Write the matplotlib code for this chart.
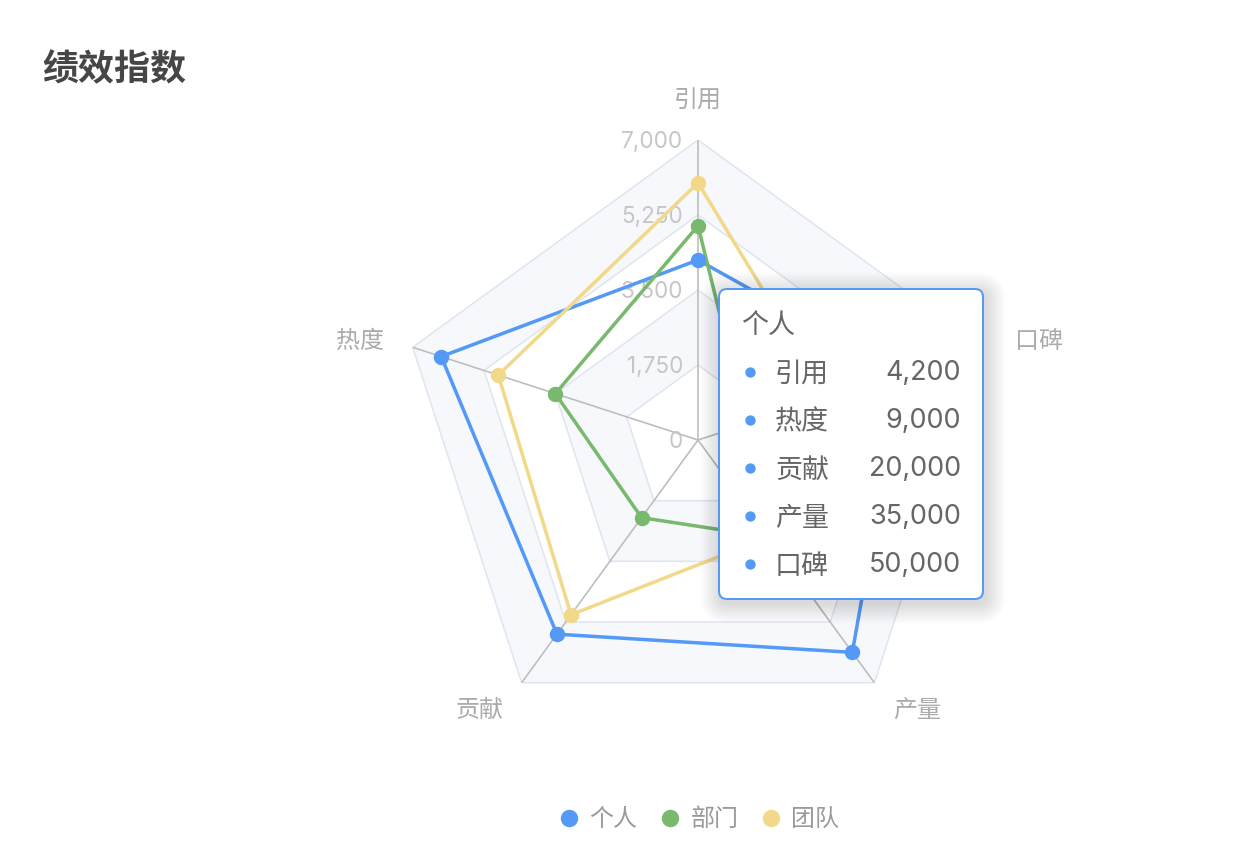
import numpy as np
import matplotlib
matplotlib.use('Agg')
import matplotlib.pyplot as plt
from matplotlib.patches import FancyBboxPatch
from matplotlib.lines import Line2D

plt.rcParams['font.family'] = ['Noto Sans CJK SC', 'DejaVu Sans']
NUM_FONT = ['Inter', 'Noto Sans CJK SC', 'DejaVu Sans']

# ---------------- data ----------------
title = '绩效指数'
indicators = ['引用', '热度', '贡献', '产量', '口碑']
indicator_max = [7000, 10000, 25000, 40000, 70000]
series_names = ['个人', '部门', '团队']
personal = [4200, 9000, 20000, 35000, 50000]
department = [5000, 5000, 8000, 16000, 12000]
team = [6000, 7000, 18000, 16000, 32000]
axis_ticks = [0, 1750, 3500, 5250, 7000]
colors = ['#5599f7', '#79b96e', '#f2d98a']
tooltip_series = 0  # index of the series shown in the tooltip

series_values = [personal, department, team]

# ---------------- figure ----------------
W, H = 1238, 866
DPI = 100
PX = 72 / DPI  # points per pixel
fig = plt.figure(figsize=(W / DPI, H / DPI), dpi=DPI)
fig.patch.set_facecolor('white')

cx, cy, R = 698, 440, 300
ax = fig.add_axes([(cx - R) / W, (H - cy - R) / H, 2 * R / W, 2 * R / H],
                  projection='polar')
ax.set_theta_zero_location('N')
ax.set_theta_direction(1)
ax.set_ylim(0, 1)
ax.set_axis_off()

n = len(indicators)
theta = 2 * np.pi * np.arange(n) / n
th_c = np.append(theta, theta[0])

# split areas & split lines
levels = [1.0, 0.75, 0.5, 0.25]
area_cols = ['#f6f8fc', '#ffffff', '#f6f8fc', '#ffffff']
for lvl, col in zip(levels, area_cols):
    ax.fill(th_c, [lvl] * (n + 1), color=col, lw=0, zorder=1)
for lvl in levels:
    ax.plot(th_c, [lvl] * (n + 1), color='#e0e6f1', lw=1.6 * PX, zorder=2)

# spokes
for t in theta:
    ax.plot([t, t], [0, 1], color='#bcbcbc', lw=1.6 * PX, zorder=2)

# axis labels on first indicator
for tk in axis_ticks:
    ax.annotate(f'{tk:,}', xy=(0, tk / indicator_max[0]),
                xytext=(-15 * PX, -2 * PX), textcoords='offset points',
                ha='right', va='center', color='#c6c6c6', family=NUM_FONT,
                fontsize=22.5 * PX, annotation_clip=False, zorder=3)

# indicator names
name_offsets = [(0, 39, 'center'), (-29, 6, 'right'), (-18, -28, 'right'),
                (19, -28, 'left'), (32, 6, 'left')]
for t, name, (dx, dy, ha) in zip(theta, indicators, name_offsets):
    ax.annotate(name, xy=(t, 1), xytext=(dx * PX, dy * PX),
                textcoords='offset points', ha=ha, va='center',
                color='#ababab', fontsize=24 * PX, annotation_clip=False,
                zorder=3)

# series
for vals, col in zip(series_values, colors):
    norm = [v / m for v, m in zip(vals, indicator_max)]
    norm_c = norm + [norm[0]]
    ax.plot(th_c, norm_c, color=col, lw=3.5 * PX, zorder=5,
            solid_joinstyle='round')
    ax.plot(theta, norm, ls='none', marker='o', ms=14 * PX, color=col,
            zorder=6)

# title
fig.text(42 / W, 1 - 70 / H, title, fontsize=36 * PX, fontweight='bold',
         color='#464646', ha='left', va='center')

# legend
handles = [Line2D([], [], ls='none', marker='o', ms=16 * PX, color=c)
           for c in colors]
fig.legend(handles, series_names, loc='center',
           bbox_to_anchor=(700 / W, 1 - 820 / H), ncol=3, frameon=False,
           fontsize=24 * PX, handlelength=0.7, handletextpad=0.5,
           columnspacing=1.0, labelcolor='#9a9a9a')

# tooltip overlay
ov = fig.add_axes([0, 0, 1, 1], zorder=10)
ov.set_xlim(0, W)
ov.set_ylim(H, 0)
ov.set_axis_off()
bx, by, bw, bh = 719, 289, 264, 310
for s in range(1, 13):
    p = s * 1.7
    ov.add_patch(FancyBboxPatch((bx + 2 - p, by + 4 - p), bw + 2 * p, bh + 2 * p,
                                boxstyle=f'round,pad=0,rounding_size={8 + p}',
                                fc='black', ec='none', alpha=0.011, zorder=1))
ov.add_patch(FancyBboxPatch((bx, by), bw, bh,
                            boxstyle='round,pad=0,rounding_size=8',
                            fc='white', ec=colors[tooltip_series],
                            lw=2 * PX, zorder=2))
ov.text(741, 325, series_names[tooltip_series], fontsize=27 * PX,
        color='#666666', ha='left', va='center', zorder=3)
row0, row_step = 374, 48
for i, (name, val) in enumerate(zip(indicators, series_values[tooltip_series])):
    yy = row0 + i * row_step
    ov.plot([750], [yy - 2], ls='none', marker='o', ms=9 * PX,
            color=colors[tooltip_series], zorder=3)
    ov.text(775, yy, name, fontsize=27 * PX, color='#666666',
            ha='left', va='center', zorder=3)
    ov.text(961, yy - 1, f'{val:,}', fontsize=27 * PX, color='#666666',
            family=NUM_FONT, ha='right', va='center', zorder=3)

fig.savefig('out.png', dpi=DPI, facecolor='white')
